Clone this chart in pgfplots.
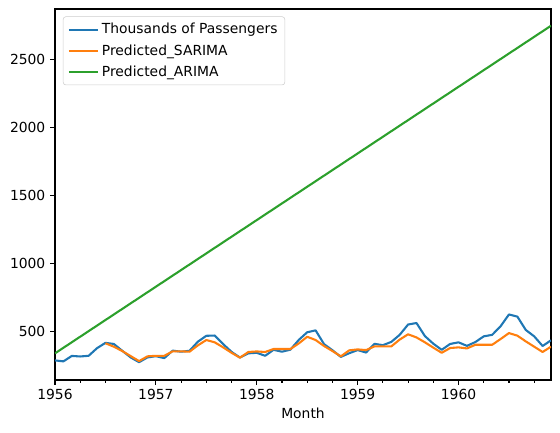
\documentclass[border=0pt]{standalone}
\usepackage{pgfplots}
\pgfplotsset{compat=1.18}
\usepackage{fontspec}
\setmainfont{DejaVu Sans}
\definecolor{tabblue}{HTML}{1F77B4}
\definecolor{taborange}{HTML}{FF7F0E}
\definecolor{tabgreen}{HTML}{2CA02C}
\begin{document}
\fontsize{10.4}{12.5}\selectfont
\begin{tikzpicture}
\begin{axis}[
  scale only axis,
  width=372pt, height=278.25pt,
  xmin=0, xmax=59, ymin=140, ymax=2868,
  xtick={0,12,24,36,48},
  xticklabels={1956,1957,1958,1959,1960},
  minor xtick={3,6,9,15,18,21,27,30,33,39,42,45,51,54,57},
  ytick={500,1000,1500,2000,2500},
  yticklabels={500,1000,1500,2000,2500},
  tick align=outside,
  major tick length=3.6pt,
  minor tick length=2.1pt,
  tick style={black, line width=0.8pt},
  xtick pos=bottom, ytick pos=left,
  axis line style={line width=0.8pt},
  xlabel={Month},
  xlabel style={yshift=1.5pt},
  tick label style={font=\fontsize{10.4}{12.5}\selectfont},
  label style={font=\fontsize{10.4}{12.5}\selectfont},
  legend cell align=left,
  legend style={at={(0.016,0.98)}, anchor=north west, draw=black!20, rounded corners=2pt,
    font=\fontsize{10.4}{12.5}\selectfont, row sep=2.4pt, inner xsep=3.5pt, inner ysep=3pt},
  legend image code/.code={\draw[#1] (0pt,0pt) -- (22pt,0pt);},
  every axis plot/.append style={line width=1.56pt, line join=round},
]
\addplot[tabblue] coordinates {
(0,284)(1,277)(2,317)(3,313)(4,318)(5,374)(6,413)(7,405)(8,355)(9,306)(10,271)(11,306)
(12,315)(13,301)(14,356)(15,348)(16,355)(17,422)(18,465)(19,467)(20,404)(21,347)(22,305)(23,336)
(24,340)(25,318)(26,362)(27,348)(28,363)(29,435)(30,491)(31,505)(32,404)(33,359)(34,310)(35,337)
(36,360)(37,342)(38,406)(39,396)(40,420)(41,472)(42,548)(43,559)(44,463)(45,407)(46,362)(47,405)
(48,417)(49,391)(50,419)(51,461)(52,472)(53,535)(54,622)(55,606)(56,508)(57,461)(58,390)(59,432)
};
\addlegendentry{Thousands of Passengers}
\addplot[taborange] coordinates {
(6,410)(7,385)(8,353)(9,316)(10,279)(11,314)
(12,318)(13,318)(14,351)(15,351)(16,348)(17,395)(18,434)(19,417)(20,380)(21,340)(22,304)(23,346)
(24,350)(25,346)(26,368)(27,368)(28,368)(29,409)(30,458)(31,434)(32,390)(33,353)(34,314)(35,358)
(36,365)(37,360)(38,387)(39,387)(40,387)(41,437)(42,476)(43,453)(44,417)(45,378)(46,340)(47,375)
(48,380)(49,372)(50,399)(51,399)(52,399)(53,441)(54,485)(55,466)(56,424)(57,385)(58,346)(59,385)
};
\addlegendentry{Predicted\_SARIMA}
\addplot[tabgreen] coordinates {
(0,336)(59,2745)
};
\addlegendentry{Predicted\_ARIMA}
\end{axis}
\pgfresetboundingbox
\path[use as bounding box] (-41.25pt,-39pt) rectangle (378.75pt,285pt);
\end{tikzpicture}
\end{document}
